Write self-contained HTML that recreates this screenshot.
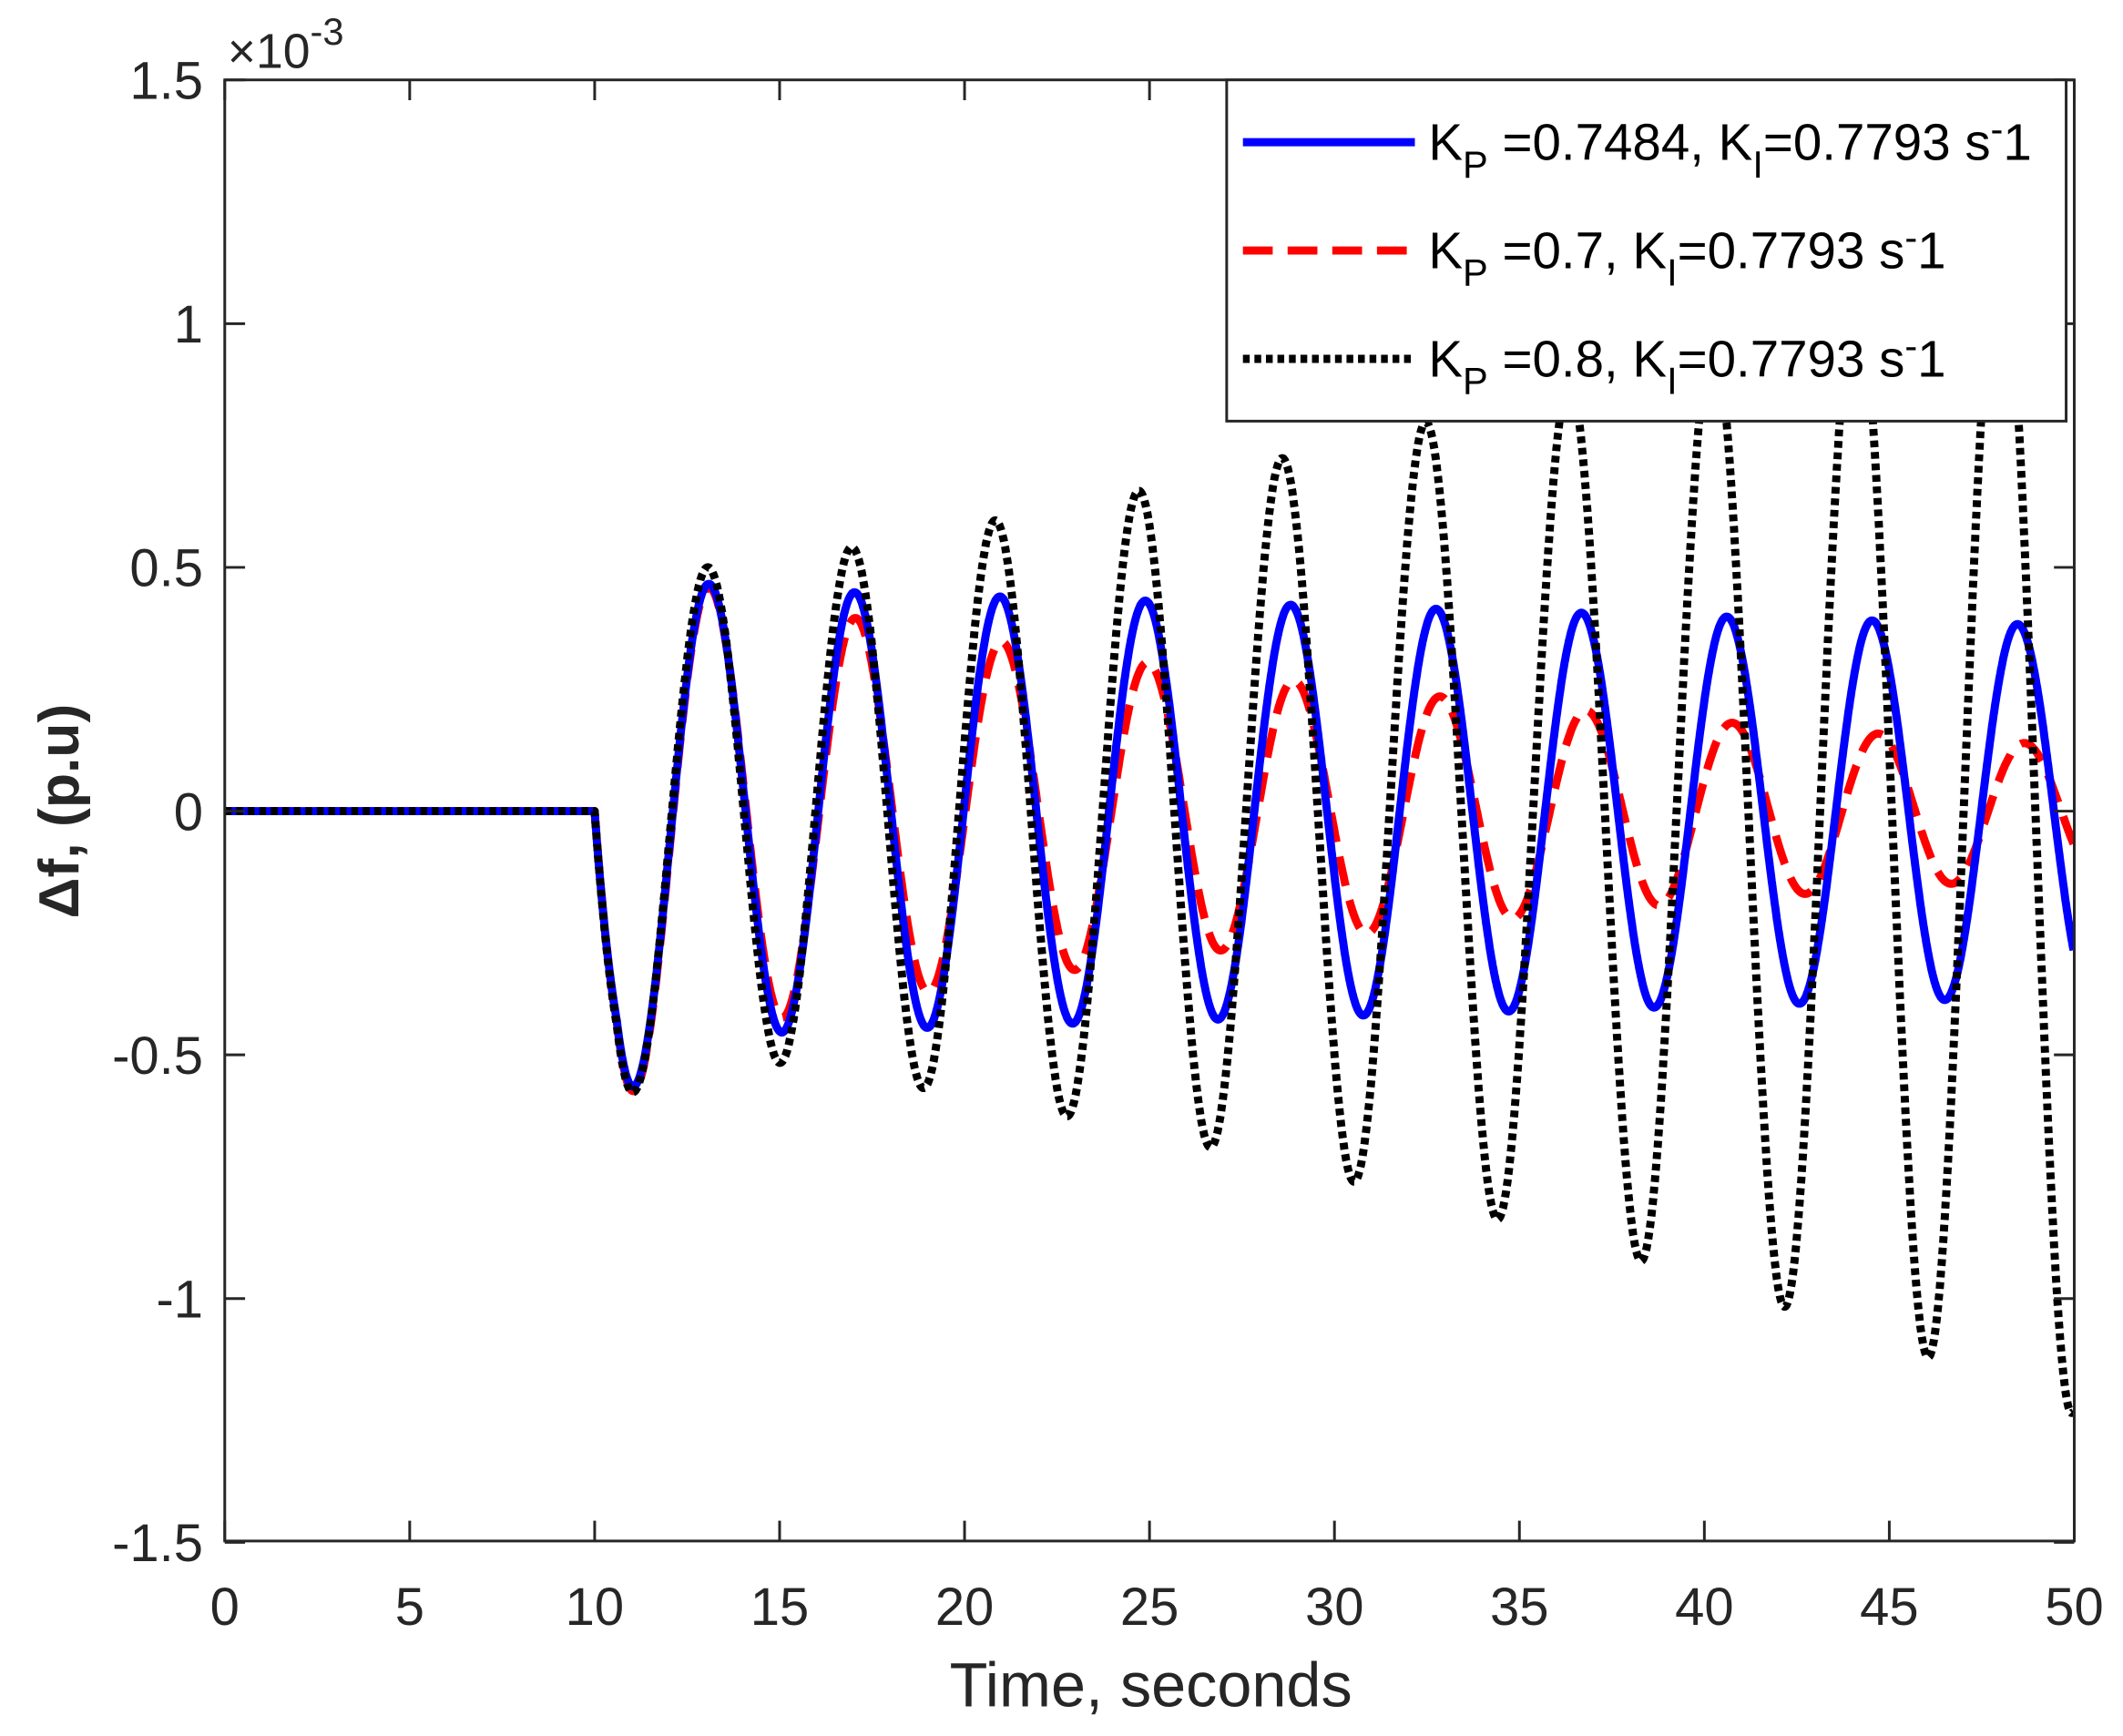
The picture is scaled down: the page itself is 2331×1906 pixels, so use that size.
<!DOCTYPE html>
<html><head><meta charset="utf-8"><style>html,body{margin:0;padding:0;background:#fff}svg{display:block}</style></head>
<body>
<svg id="s" width="2331" height="1906" viewBox="0 0 1568 1282" preserveAspectRatio="none" xmlns="http://www.w3.org/2000/svg" font-family="Liberation Sans, sans-serif">
<rect width="1568" height="1282" fill="#fff"/>
<defs><clipPath id="c"><rect x="166" y="59" width="1366" height="1079"/></clipPath></defs>
<g id="curves" clip-path="url(#c)" fill="none" stroke-linejoin="round"></g>
<g id="axes" stroke="#262626" stroke-width="2" fill="none">
<rect x="166" y="59" width="1366" height="1079"/>
</g>
<g id="lab" font-size="39" fill="#262626"></g>
<text x="850" y="1260" font-size="46" text-anchor="middle" fill="#262626">Time, seconds</text>
<text transform="translate(58,599) rotate(-90)" font-size="42" font-weight="bold" text-anchor="middle" fill="#262626">Δf, (p.u)</text>
<text x="168" y="50" font-size="36" fill="#262626">×10<tspan dy="-17" font-size="28">-3</tspan></text>
<g>
<rect x="906" y="59" width="620" height="252" fill="#fff" stroke="#262626" stroke-width="2"/>
<line x1="918" y1="105" x2="1045" y2="105" stroke="#0000ff" stroke-width="6"/>
<line x1="918" y1="185" x2="1045" y2="185" stroke="#ff0000" stroke-width="6" stroke-dasharray="22,11"/>
<line x1="918" y1="265" x2="1045" y2="265" stroke="#000" stroke-width="6" stroke-dasharray="5,3.5"/>
<g font-size="38" fill="#000">
<text x="1055" y="118">K<tspan dy="13" font-size="28">P</tspan><tspan dy="-13"> =0.7484, K</tspan><tspan dy="13" font-size="28">I</tspan><tspan dy="-13">=0.7793 s</tspan><tspan dy="-13" font-size="28">-</tspan><tspan dy="13">1</tspan></text>
<text x="1055" y="198">K<tspan dy="13" font-size="28">P</tspan><tspan dy="-13"> =0.7, K</tspan><tspan dy="13" font-size="28">I</tspan><tspan dy="-13">=0.7793 s</tspan><tspan dy="-13" font-size="28">-</tspan><tspan dy="13">1</tspan></text>
<text x="1055" y="278">K<tspan dy="13" font-size="28">P</tspan><tspan dy="-13"> =0.8, K</tspan><tspan dy="13" font-size="28">I</tspan><tspan dy="-13">=0.7793 s</tspan><tspan dy="-13" font-size="28">-</tspan><tspan dy="13">1</tspan></text>
</g>
</g>
<script>
(function(){
var NS="http://www.w3.org/2000/svg";
function X(t){return 166+t*27.32;}
function Y(v){return 599-v*360;}
var ax=document.getElementById('axes'),lab=document.getElementById('lab');
function el(p,n,a,txt){var e=document.createElementNS(NS,n);for(var k in a)e.setAttribute(k,a[k]);if(txt!=null)e.textContent=txt;p.appendChild(e);return e;}
for(var t=0;t<=50;t+=5){var x=X(t);el(ax,'line',{x1:x,y1:1138,x2:x,y2:1123});el(ax,'line',{x1:x,y1:59,x2:x,y2:74});
el(lab,'text',{x:x,y:1200,'text-anchor':'middle'},String(t));}
var yl=[[-1.5,'-1.5'],[-1,'-1'],[-0.5,'-0.5'],[0,'0'],[0.5,'0.5'],[1,'1'],[1.5,'1.5']];
yl.forEach(function(p){var y=Y(p[0]);el(ax,'line',{x1:166,y1:y,x2:181,y2:y});el(ax,'line',{x1:1532,y1:y,x2:1517,y2:y});
el(lab,'text',{x:150,y:y+14,'text-anchor':'end'},p[1]);});
var g=document.getElementById('curves');
function curve(a,s,b,T,col,dash){var pts=[];for(var t=0;t<=50;t+=0.02){var v=0;if(t>10){var u=t-10;var w=Math.min(1,u/0.6);var ph=u-0.15*w;
v=-(a*Math.exp(s*u)+b*Math.exp(-u/0.8))*Math.sin(2*Math.PI*ph/T);}
pts.push(X(t).toFixed(1)+','+Y(v).toFixed(1));}
var o={points:pts.join(' '),stroke:col,'stroke-width':6};if(dash)o['stroke-dasharray']=dash;el(g,'polyline',o);}
curve(0.50,-0.033,0.36,3.95,'#ff0000','22,11');
curve(0.465,-0.005,0.40,3.93,'#0000ff',null);
curve(0.455,0.025,0.42,3.88,'#000000','5,3.5');
})();
</script>
</svg>
</body></html>
